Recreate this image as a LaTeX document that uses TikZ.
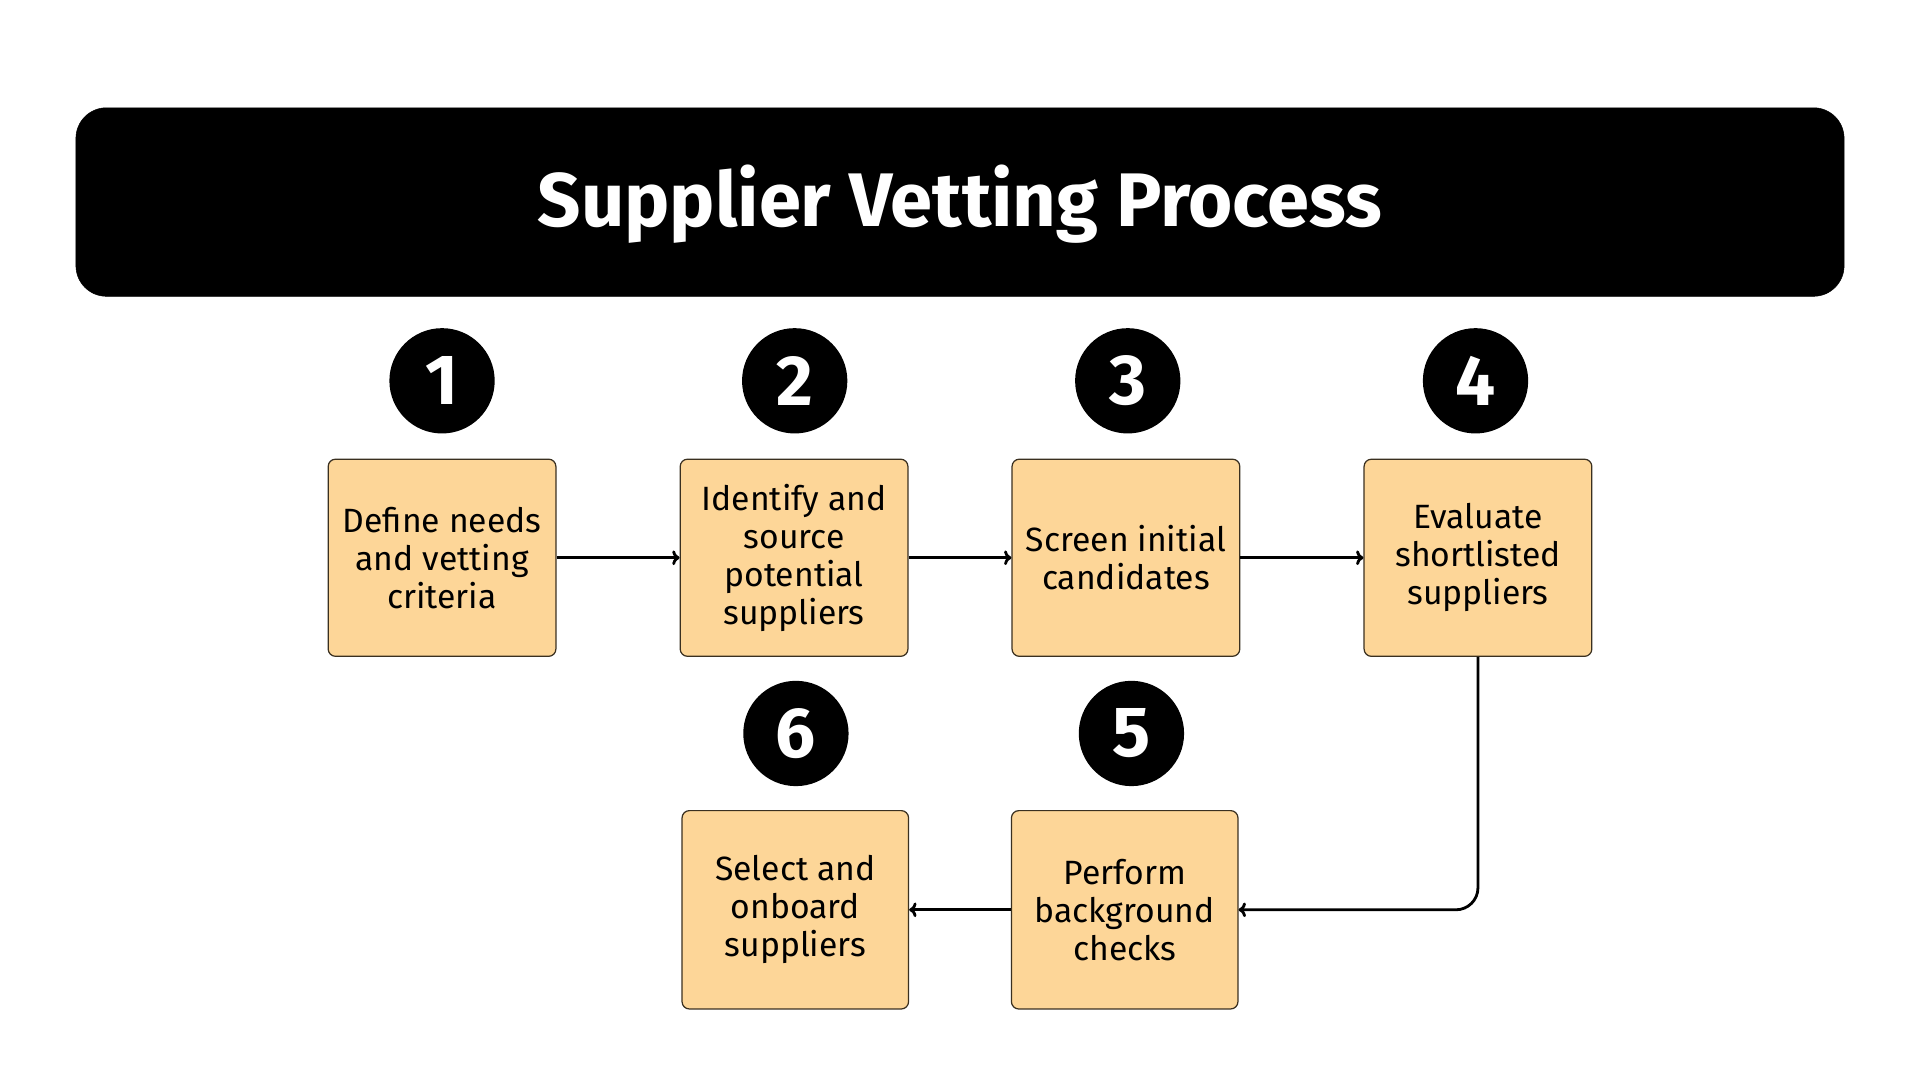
\documentclass[tikz,border=0pt]{standalone}
\usepackage{fontspec}
\setmainfont{Fira Sans}
\usetikzlibrary{arrows.meta,positioning}
\definecolor{boxfill}{HTML}{FDD698}
\definecolor{boxline}{HTML}{3A3020}
\tikzset{
  stepbox/.style={draw=boxline, line width=1pt, fill=boxfill, rounded corners=6pt,
    minimum width=186pt, minimum height=161pt, inner sep=0pt, align=center,
    font=\fontsize{27.5}{31}\selectfont},
  numdot/.style={circle, fill=black, minimum size=86pt, inner sep=0pt,
    text=white, font=\fontsize{58}{58}\selectfont\bfseries},
  flow/.style={line width=2.3pt, -{To[length=6pt,width=12pt]}}
}
\begin{document}
\begin{tikzpicture}[x=1pt,y=-1pt]
    \useasboundingbox (0,0) rectangle (1568,882);
    % title bar
    \draw [fill=black, rounded corners=25pt] (62,88) rectangle (1506,242);
    \node (title) [text=white, font=\fontsize{62}{62}\selectfont\bfseries] at (784,167) {Supplier Vetting Process};
    % steps
    \node (s1) [stepbox] at (361,455.5) {Define needs\\and vetting\\criteria};
    \node (s2) [stepbox] at (648.5,455.5) {Identify and\\source\\potential\\suppliers};
    \node (s3) [stepbox] at (919.5,455.5) {Screen initial\\candidates};
    \node (s4) [stepbox] at (1207,455.5) {Evaluate\\shortlisted\\suppliers};
    \node (s5) [stepbox, minimum width=185pt, minimum height=162pt] at (918.5,743) {Perform\\background\\checks};
    \node (s6) [stepbox, minimum width=185pt, minimum height=162pt] at (649.5,743) {Select and\\onboard\\suppliers};
    % numbers
    \node (n1) [numdot] at (361,311) {1};
    \node (n2) [numdot] at (649,311) {2};
    \node (n3) [numdot] at (921,311) {3};
    \node (n4) [numdot] at (1205,311) {4};
    \node (n5) [numdot] at (924,599) {5};
    \node (n6) [numdot] at (650,599) {6};
    % connectors
    \draw [flow] (s1.east) -- (s2.west);
    \draw [flow] (s2.east) -- (s3.west);
    \draw [flow] (s3.east) -- (s4.west);
    \draw [flow, rounded corners=18pt] (s4.south) |- (s5.east);
    \draw [flow] (s5.west) -- (s6.east);
\end{tikzpicture}
\end{document}
